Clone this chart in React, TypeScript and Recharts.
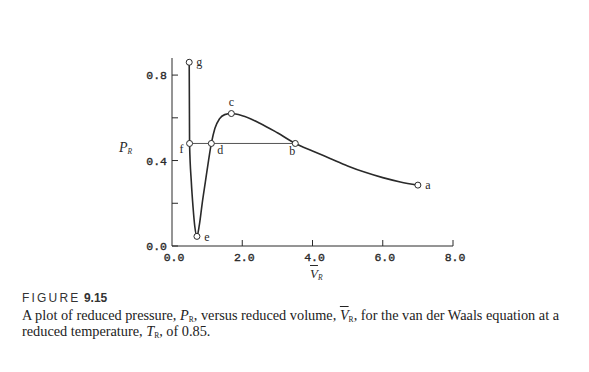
import React from "react";
import {
  ComposedChart,
  Line,
  Scatter,
  XAxis,
  YAxis,
  LabelList,
} from "recharts";

// curve (reduced volume, reduced pressure)
const curveV = [
  0.49, 0.5, 0.55, 0.6, 0.65, 0.71, 0.78, 0.86, 0.95, 1.04, 1.12, 1.22, 1.35,
  1.5, 1.69, 2.0, 2.5, 3.0, 3.51, 4.0, 4.5, 5.0, 5.5, 6.0, 6.5, 7.0,
];
const curveP = [
  0.86, 0.48, 0.3, 0.18, 0.09, 0.045, 0.1, 0.2, 0.3, 0.4, 0.48, 0.55, 0.595,
  0.615, 0.62, 0.61, 0.575, 0.53, 0.48, 0.445, 0.41, 0.375, 0.345, 0.32, 0.3,
  0.285,
];

// lettered points
const pointNames = ["g", "f", "e", "d", "c", "b", "a"];
const pointV = [0.49, 0.5, 0.71, 1.12, 1.69, 3.51, 7.0];
const pointP = [0.86, 0.48, 0.045, 0.48, 0.62, 0.48, 0.285];

// horizontal tie line f - d - b
const tieV = [0.5, 3.51];
const tieP = [0.48, 0.48];

const xTicks = [0, 2, 4, 6, 8];
const yTicks = [0, 0.2, 0.4, 0.6, 0.8];
const yLabelled = [0, 0.4, 0.8];

const curve = curveV.map((v, i) => ({ v, p: curveP[i] }));
const points = pointNames.map((name, i) => ({ name, v: pointV[i], p: pointP[i] }));
const tie = tieV.map((v, i) => ({ v, p: tieP[i] }));

// where each letter sits relative to its marker
const labelOffset: Record<string, [number, number]> = {
  g: [10, 4],
  f: [-8, 10],
  e: [10, 5],
  d: [9, 11],
  c: [0, -8],
  b: [-3, 12],
  a: [10, 4],
};

const INK = "#2a2a2a";
const MONO = "'Liberation Mono', 'DejaVu Sans Mono', monospace";
const SERIF = "'Liberation Serif', 'DejaVu Serif', serif";

const YTick = ({ x, y, payload }: any) => (
  <g>
    <line x1={x} y1={y} x2={x + 6} y2={y} stroke={INK} strokeWidth={1} />
    {yLabelled.includes(payload.value) && (
      <text
        x={x - 5}
        y={y + 4}
        textAnchor="end"
        fontFamily={MONO}
        fontSize={11.5}
        fill={INK}
        stroke={INK}
        strokeWidth={0.35}
      >
        {payload.value.toFixed(1)}
      </text>
    )}
  </g>
);

const XTick = ({ x, y, payload }: any) => (
  <g>
    {payload.value !== 0 && (
      <line x1={x} y1={y} x2={x} y2={y - 6} stroke={INK} strokeWidth={1} />
    )}
    <text
      x={x + 2}
      y={y + 15}
      textAnchor="middle"
      fontFamily={MONO}
      fontSize={11.5}
      fill={INK}
      stroke={INK}
      strokeWidth={0.35}
    >
      {payload.value.toFixed(1)}
    </text>
  </g>
);

const Marker = (props: any) => (
  <circle cx={props.cx} cy={props.cy} r={3} fill="#fff" stroke={INK} strokeWidth={1} />
);

const PointLabel = (props: any) => {
  const { x, y, width, height, value } = props;
  const [dx, dy] = labelOffset[value] || [0, 0];
  const cx = x + (width || 0) / 2;
  const cy = y + (height || 0) / 2;
  return (
    <text x={cx + dx} y={cy + dy} textAnchor="middle" fontFamily={SERIF} fontSize={12} fill={INK}>
      {value}
    </text>
  );
};

// small subscript that does not push the line box around
const Sub = ({ children }: { children: React.ReactNode }) => (
  <span style={{ fontSize: 7.5, lineHeight: "6px", position: "relative", top: 2, display: "inline-block" }}>
    {children}
  </span>
);

export default function App() {
  return (
    <div style={{ position: "absolute", left: 0, top: 0, width: 589, height: 372, background: "#fff" }}>
      <div style={{ position: "absolute", left: 0, top: 0 }}>
        <ComposedChart
          width={589}
          height={290}
          margin={{ top: 58, right: 136, bottom: 14, left: 132 }}
        >
          <XAxis
            type="number"
            dataKey="v"
            domain={[0, 8]}
            ticks={xTicks}
            tick={<XTick />}
            tickLine={false}
            tickSize={0}
            tickMargin={0}
            height={30}
            stroke={INK}
            allowDataOverflow
          />
          <YAxis
            type="number"
            dataKey="p"
            domain={[0, 0.88]}
            ticks={yTicks}
            tick={<YTick />}
            tickLine={false}
            tickSize={0}
            tickMargin={0}
            width={40}
            stroke={INK}
            allowDataOverflow
          />
          <Line
            data={tie}
            dataKey="p"
            type="linear"
            stroke="#555"
            strokeWidth={1}
            dot={false}
            isAnimationActive={false}
          />
          <Line
            data={curve}
            dataKey="p"
            type="monotone"
            stroke={INK}
            strokeWidth={1.6}
            dot={false}
            isAnimationActive={false}
          />
          <Scatter data={points} dataKey="p" shape={<Marker />} isAnimationActive={false}>
            <LabelList dataKey="name" content={<PointLabel />} />
          </Scatter>
        </ComposedChart>
      </div>

      {/* axis titles */}
      <div style={{ position: "absolute", left: 119, top: 140, fontFamily: SERIF, fontSize: 14, fontStyle: "italic", color: INK, lineHeight: "15px" }}>
        P<Sub>R</Sub>
      </div>
      <div style={{ position: "absolute", left: 310, top: 267, fontFamily: SERIF, fontSize: 13, fontStyle: "italic", color: INK, lineHeight: "14px" }}>
        <span style={{ textDecoration: "overline" }}>V</span>
        <Sub>R</Sub>
      </div>

      {/* caption */}
      <div style={{ position: "absolute", left: 22, top: 291, fontFamily: "'Liberation Sans', Arial, sans-serif", fontSize: 12, color: "#333", fontWeight: 700 }}>
        <span style={{ letterSpacing: 2.2, fontWeight: 400 }}>FIGURE</span> 9.15
      </div>
      <div style={{ position: "absolute", left: 22, top: 308, width: 567, whiteSpace: "nowrap", fontFamily: SERIF, fontSize: 14.3, lineHeight: "15.5px", color: "#222" }}>
        A plot of reduced pressure, <i>P</i>
        <Sub>R</Sub>, versus reduced volume,{" "}
        <i style={{ textDecoration: "overline" }}>V</i>
        <Sub>R</Sub>, for the van der Waals equation at a
        <br />
        reduced temperature, <i>T</i>
        <Sub>R</Sub>, of 0.85.
      </div>
    </div>
  );
}
